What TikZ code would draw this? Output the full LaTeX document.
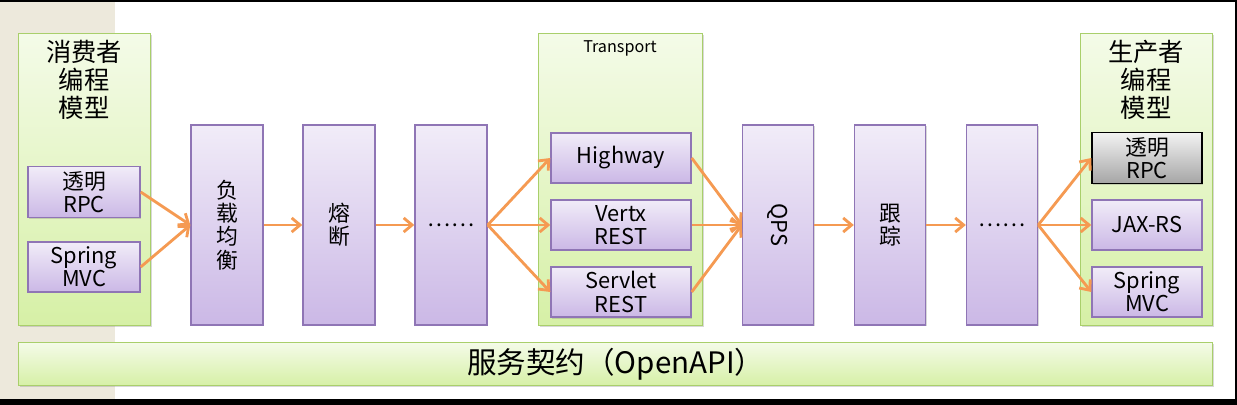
\documentclass[tikz,border=0pt]{standalone}
\usepackage{fontspec}
\setmainfont{Noto Sans CJK SC}
\usetikzlibrary{arrows.meta,shadows}
\definecolor{gborder}{HTML}{A9CF6B}
\definecolor{gtop}{HTML}{F4FBE8}
\definecolor{gbot}{HTML}{D6F0A6}
\definecolor{pborder}{HTML}{8F75B5}
\definecolor{ptop}{HTML}{F1ECF8}
\definecolor{pbot}{HTML}{CBB8E6}
\definecolor{arr}{HTML}{F59A52}
\definecolor{beige}{HTML}{EDE9DC}
\tikzset{
  green/.style={draw=gborder,line width=1pt,top color=gtop,bottom color=gbot,drop shadow={shadow xshift=1pt,shadow yshift=-1pt,opacity=0.3}},
  purple/.style={draw=pborder,line width=1pt,top color=ptop,bottom color=pbot,drop shadow={shadow xshift=1pt,shadow yshift=-1pt,opacity=0.3},align=center,font=\fontsize{15.5}{16.5}\selectfont},
  grayb/.style={draw=black,line width=1pt,top color=white!95!black,bottom color=white!65!black,align=center,font=\fontsize{15.5}{16.5}\selectfont,drop shadow={shadow xshift=1pt,shadow yshift=-1pt,opacity=0.3}},
  arrow/.style={draw=arr,line width=2pt,-{Straight Barb[length=6pt,width=10pt]}}
}
\begin{document}
\begin{tikzpicture}[x=0.025cm,y=-0.025cm]
\useasboundingbox (0,0) rectangle (1237,405);
\fill[white] (0,0) rectangle (1237,405);
\fill[beige] (0,0) rectangle (115,400);
\draw[black,line width=2pt] (0,1) -- (1236,1) -- (1236,400);
\fill[black] (0,399) rectangle (1237,405);
% green panels
\node[green,minimum width=132*0.025cm,minimum height=292*0.025cm,anchor=north west] (cons) at (18,33) {};
\node[green,minimum width=164*0.025cm,minimum height=292*0.025cm,anchor=north west] (trans) at (538,33) {};
\node[green,minimum width=132*0.025cm,minimum height=292*0.025cm,anchor=north west] (prod) at (1080,33) {};
\node[green,minimum width=1194*0.025cm,minimum height=43*0.025cm,anchor=north west,font=\fontsize{21}{23}\selectfont] (api) at (18,342) {服务契约（OpenAPI）};
\node[align=center,font=\fontsize{18}{20}\selectfont] (ct) at (84,80) {消费者\\编程\\模型};
\node[align=center,font=\fontsize{18}{20}\selectfont] (pt) at (1146,80) {生产者\\编程\\模型};
\node[font=\fontsize{11.5}{13}\selectfont] (tt) at (620,48) {Transport};
% consumer boxes
\node[purple,minimum width=112*0.025cm,minimum height=50*0.025cm] (c1) at (84,192) {透明\\RPC};
\node[purple,minimum width=112*0.025cm,minimum height=50*0.025cm] (c2) at (84,267) {Spring\\MVC};
% tall boxes
\node[purple,minimum width=72*0.025cm,minimum height=200*0.025cm] (lb) at (227,225) {负\\载\\均\\衡};
\node[purple,minimum width=72*0.025cm,minimum height=200*0.025cm] (rd) at (339,225) {熔\\断};
\node[purple,minimum width=72*0.025cm,minimum height=200*0.025cm] (d1) at (451,225) {……};
\node[purple,minimum width=71*0.025cm,minimum height=200*0.025cm] (qps) at (778,225) {\rotatebox{-90}{QPS}};
\node[purple,minimum width=71*0.025cm,minimum height=200*0.025cm] (tr) at (890,225) {跟\\踪};
\node[purple,minimum width=71*0.025cm,minimum height=200*0.025cm] (d2) at (1002,225) {……};
% transport boxes
\node[purple,minimum width=140*0.025cm,minimum height=50*0.025cm] (hw) at (621,158) {Highway};
\node[purple,minimum width=140*0.025cm,minimum height=50*0.025cm] (vx) at (621,225) {Vertx\\REST};
\node[purple,minimum width=140*0.025cm,minimum height=50*0.025cm] (sv) at (621,292) {Servlet\\REST};
% producer boxes
\node[grayb,minimum width=110*0.025cm,minimum height=50*0.025cm] (p1) at (1147,158) {透明\\RPC};
\node[purple,minimum width=110*0.025cm,minimum height=50*0.025cm] (p2) at (1147,225) {JAX-RS};
\node[purple,minimum width=110*0.025cm,minimum height=50*0.025cm] (p3) at (1147,292) {Spring\\MVC};
% arrows
\draw[arrow] (c1.east) -- (lb.west);
\draw[arrow] (c2.east) -- (lb.west);
\draw[arrow] (lb.east) -- (rd.west);
\draw[arrow] (rd.east) -- (d1.west);
\draw[arrow] (d1.east) -- (hw.west);
\draw[arrow] (d1.east) -- (vx.west);
\draw[arrow] (d1.east) -- (sv.west);
\draw[arrow] (hw.east) -- (qps.west);
\draw[arrow] (vx.east) -- (qps.west);
\draw[arrow] (sv.east) -- (qps.west);
\draw[arrow] (qps.east) -- (tr.west);
\draw[arrow] (tr.east) -- (d2.west);
\draw[arrow] (d2.east) -- (p1.west);
\draw[arrow] (d2.east) -- (p2.west);
\draw[arrow] (d2.east) -- (p3.west);
\end{tikzpicture}
\end{document}
